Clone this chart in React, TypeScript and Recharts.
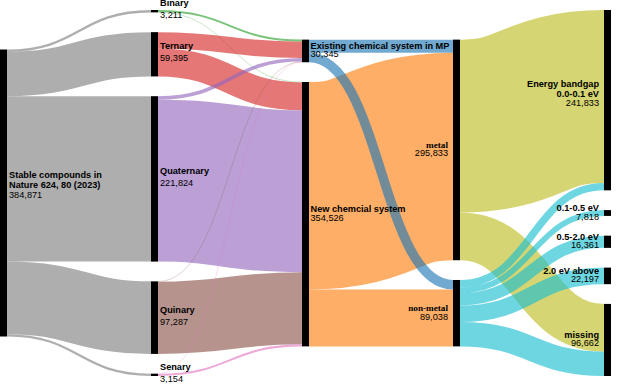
import { Sankey } from "recharts";

// nodes (titles may span several lines)
const nodeTitles: string[][] = [
  ["Stable compounds in", "Nature 624, 80 (2023)"],
  ["Binary"],
  ["Ternary"],
  ["Quaternary"],
  ["Quinary"],
  ["Senary"],
  ["Existing chemical system in MP"],
  ["New chemcial system"],
  ["metal"],
  ["non-metal"],
  ["Energy bandgap", "0.0-0.1 eV"],
  ["0.1-0.5 eV"],
  ["0.5-2.0 eV"],
  ["2.0 eV above"],
  ["missing"],
];

const nodeColors = [
  "#7f7f7f", "#2ca02c", "#d62728", "#9467bd", "#8c564b", "#e377c2",
  "#1f77b4", "#ff7f0e", "#bcbd22", "#17becf",
  "#7f7f7f", "#7f7f7f", "#7f7f7f", "#7f7f7f", "#7f7f7f",
];

// flows
const linkSources = [0, 0, 0, 0, 0, 1, 1, 2, 2, 3, 3, 4, 4, 5, 5, 7, 7, 6, 6, 8, 8, 9, 9, 9, 9, 9];
const linkTargets = [1, 2, 3, 4, 5, 6, 7, 6, 7, 6, 7, 6, 7, 6, 7, 8, 9, 8, 9, 10, 14, 10, 11, 12, 13, 14];
const linkValues = [
  3211, 59395, 221824, 97287, 3154,
  2700, 511,
  22000, 37395,
  4700, 217124,
  550, 96737,
  395, 2759,
  278333, 76193,
  17500, 12845,
  231833, 64000,
  10000, 7818, 16361, 22197, 32662,
];

const data = {
  nodes: nodeTitles.map((t) => ({ name: t.join(" ") })),
  links: linkSources.map((s, i) => ({ source: s, target: linkTargets[i], value: linkValues[i] })),
};

const W = 617;
const H = 389;
const margin = { top: 10, right: 6, bottom: 13, left: 0 };
const padding = 19.75;
const innerH = H - margin.top - margin.bottom;

// Recharts stacks every column from the top; the original centres each column,
// so work out how much each depth has to slide down.
const nodeCount = nodeTitles.length;
const inSum = new Array(nodeCount).fill(0);
const outSum = new Array(nodeCount).fill(0);
linkSources.forEach((s, i) => {
  outSum[s] += linkValues[i];
  inSum[linkTargets[i]] += linkValues[i];
});
const nodeValue = inSum.map((v, i) => Math.max(v, outSum[i]));
const nodeDepth = new Array(nodeCount).fill(0);
for (let k = 0; k < nodeCount; k++) {
  linkSources.forEach((s, i) => {
    nodeDepth[linkTargets[i]] = Math.max(nodeDepth[linkTargets[i]], nodeDepth[s] + 1);
  });
}
const maxDepth = Math.max(...nodeDepth);
const colSum: number[] = [];
const colCount: number[] = [];
for (let d = 0; d <= maxDepth; d++) {
  colSum[d] = 0;
  colCount[d] = 0;
}
nodeValue.forEach((v, i) => {
  colSum[nodeDepth[i]] += v;
  colCount[nodeDepth[i]] += 1;
});
const ratio = Math.min(...colSum.map((s, d) => (innerH - (colCount[d] - 1) * padding) / s));
const depthOffset = colSum.map((s, d) => (innerH - (s * ratio + (colCount[d] - 1) * padding)) / 2);

const sans = "'Liberation Sans', Arial, Helvetica, sans-serif";
const serif = "'Liberation Serif', 'Times New Roman', serif";
const fontSize = 9.2;

function SankeyNode(props: any) {
  const { x, width, height, index, payload } = props;
  const depth = payload.depth;
  const y = props.y + depthOffset[depth];
  const cy = y + height / 2;
  const titles = nodeTitles[index];
  const value = Number(payload.value).toLocaleString("en-US");
  const rightSide = depth <= 2;
  const tx = rightSide ? x + width + (depth === 2 ? 1.5 : 2) : x - 5;
  const anchor = rightSide ? "start" : "end";

  let titleYs: number[] = [];
  let valueY = cy + 7;
  if (depth === 0) {
    titleYs = [cy - 15.5, cy - 5.5];
    valueY = cy + 4.5;
  } else if (depth === 1) {
    titleYs = [cy - 5];
    valueY = cy + 7;
  } else if (depth === 4 && titles.length > 1) {
    titleYs = [cy - 13, cy - 3];
    valueY = cy + 5.5;
  } else {
    titleYs = [cy - 2];
    valueY = cy + 6.5;
  }
  const titleFont = depth === 3 ? serif : sans;

  return (
    <g>
      <rect x={x} y={y} width={width} height={Math.max(height, 1)} fill="#000" />
      {titles.map((t, i) => (
        <text key={i} x={tx} y={titleYs[i]} textAnchor={anchor} fontFamily={titleFont} fontWeight="bold" fontSize={fontSize} fill="#000">
          {t}
        </text>
      ))}
      <text x={tx} y={valueY} textAnchor={anchor} fontFamily={sans} fontSize={fontSize} fill="#000">
        {value}
      </text>
    </g>
  );
}

function SankeyLink(props: any) {
  const { sourceX, targetX, sourceControlX, targetControlX, linkWidth, index } = props;
  const s = linkSources[index];
  const t = linkTargets[index];
  const sy = props.sourceY + depthOffset[nodeDepth[s]];
  const ty = props.targetY + depthOffset[nodeDepth[t]];
  return (
    <path
      d={`M${sourceX},${sy} C${sourceControlX},${sy} ${targetControlX},${ty} ${targetX},${ty}`}
      fill="none"
      stroke={nodeColors[s]}
      strokeOpacity={0.63}
      strokeWidth={Math.max(linkWidth, 0.4)}
    />
  );
}

export default function App() {
  return (
    <div style={{ position: "absolute", left: 0, top: 0, width: W, height: H, background: "#fff" }}>
      <Sankey
        width={W}
        height={H}
        data={data}
        nodeWidth={7}
        nodePadding={padding}
        margin={margin}
        iterations={0}
        sort={false}
        node={<SankeyNode />}
        link={<SankeyLink />}
      />
    </div>
  );
}
